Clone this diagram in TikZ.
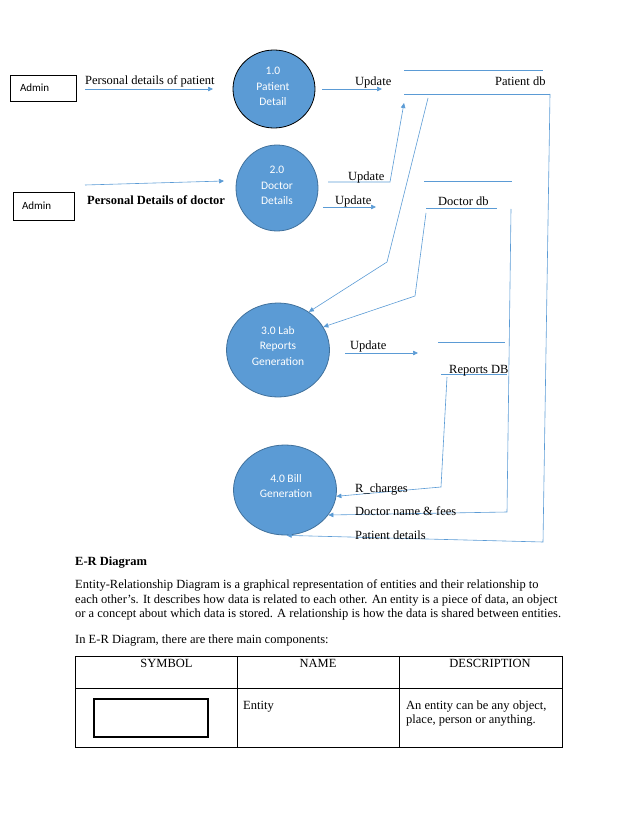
\documentclass[tikz,border=0pt]{standalone}
\usepackage{fontspec}
\setmainfont{Liberation Serif}
\newfontfamily\calibri{Carlito}
\usepackage{tikz}
\usetikzlibrary{arrows.meta,shapes.geometric}

\definecolor{procblue}{HTML}{5B9BD5}
\definecolor{procedge}{HTML}{41719C}

\tikzset{
  proc/.style={ellipse, fill=procblue, draw=procedge, line width=0.8pt, inner sep=0pt},
  proctxt/.style={align=center, inner sep=0pt, text=white,
    font=\calibri\fontsize{11.5}{15.5}\selectfont},
  extbox/.style={rectangle, draw=black, line width=0.8pt, align=left,
    font=\calibri\fontsize{11}{13}\selectfont},
  flow/.style={draw=procblue, line width=0.6pt},
  lbl/.style={anchor=base west, inner sep=0pt, font=\fontsize{12.5}{15}\selectfont},
  hdr/.style={anchor=base, inner sep=0pt, font=\fontsize{12.5}{15}\selectfont},
}

\begin{document}
\begin{tikzpicture}[x=1pt,y=-1pt,>={Triangle[length=5pt,width=4.5pt]}]
\useasboundingbox (0,0) rectangle (638,826);

% processes
\node (p1) at (274,89) [proc, draw=black, minimum width=82pt, minimum height=78pt,
  label={[proctxt, xshift=-1pt, yshift=2.5pt]center:1.0\\Patient\\Detail}] {};
\node (p2) at (277,188) [proc, minimum width=82pt, minimum height=86pt,
  label={[proctxt, yshift=2.5pt]center:2.0\\Doctor\\Details}] {};
\node (p3) at (278,350) [proc, minimum width=103pt, minimum height=94pt,
  label={[proctxt, yshift=4pt]center:3.0 Lab\\Reports\\Generation}] {};
\node (p4) at (285,490) [proc, minimum width=103pt, minimum height=90pt,
  label={[proctxt, xshift=1pt, yshift=4pt]center:4.0 Bill\\Generation}] {};

% external entities
\node (a1) at (43,88) [extbox, minimum height=26pt, text width=46pt, inner xsep=10pt] {Admin};
\node (a2) at (43.5,206) [extbox, minimum height=28pt, text width=43pt, inner xsep=9pt] {Admin};

% data stores
\draw[flow] (404,70) -- (543,70);
\draw[flow] (404,94) -- (550,94);
\node (sPat) at (495,86) [lbl] {Patient db};
\draw[flow] (424,181) -- (512,181);
\draw[flow] (426,208) -- (497,208);
\node (sDoc) at (438,206) [lbl] {Doctor db};
\draw[flow] (438,342) -- (505,342);
\draw[flow] (441,374) -- (507,374);
\node (sRep) at (449,373) [lbl] {Reports DB};

% admin to processes
\coordinate (f1a) at (85,89);
\coordinate (f1b) at (213,89);
\draw[flow,->] (f1a) -- (f1b);
\node (l1) at (85,85) [lbl] {Personal details of patient};
\coordinate (f2a) at (85,185);
\coordinate (f2b) at (224,181);
\draw[flow,->] (f2a) -- (f2b);
\node (l2) at (87,205) [lbl] {\bfseries Personal Details of doctor};

% updates into stores
\coordinate (u1a) at (322,89);
\coordinate (u1b) at (382,89);
\draw[flow,->] (u1a) -- (u1b);
\node (l3) at (355,86) [lbl] {Update};
\coordinate (u2a) at (328,182);
\coordinate (u2b) at (390,182);
\coordinate (u2c) at (404,103);
\draw[flow,->] (u2a) -- (u2b) -- (u2c);
\node (l4) at (348,181) [lbl] {Update};
\coordinate (u3a) at (323,207);
\coordinate (u3b) at (376,207);
\draw[flow,->] (u3a) -- (u3b);
\node (l5) at (335,205) [lbl] {Update};
\coordinate (u4a) at (345,353);
\coordinate (u4b) at (418,353);
\draw[flow,->] (u4a) -- (u4b);
\node (l6) at (350,349) [lbl] {Update};

% stores to lab reports
\coordinate (r1a) at (428,98);
\coordinate (r1b) at (387,262);
\draw[flow,->] (r1a) -- (r1b) -- (p3.51);
\coordinate (r2a) at (426,213);
\coordinate (r2b) at (415,296);
\draw[flow,->] (r2a) -- (r2b) -- (p3.27);

% stores to bill
\coordinate (b1a) at (447,377);
\coordinate (b1b) at (441,487);
\draw[flow,->] (b1a) -- (b1b) -- (p4.-7);
\node (l7) at (355,492) [lbl] {R\_charges};
\coordinate (b2a) at (511,209);
\coordinate (b2b) at (507,512);
\draw[flow,->] (b2a) -- (b2b) -- (p4.-30);
\node (l8) at (355,515) [lbl] {Doctor name \& fees};
\coordinate (b3a) at (550,94);
\coordinate (b3b) at (543,542);
\draw[flow,->] (b3a) -- (b3b) -- (p4.-88);
\node (l9) at (355,539) [lbl] {Patient details};

% E-R text
\node (t0) at (75,565) [lbl] {\bfseries E-R Diagram};
\node (t1) at (75,588) [lbl] {Entity-Relationship Diagram is a graphical representation of entities and their relationship to};
\node (t2) at (75,603) [lbl] {each other’s. It describes how data is related to each other. An entity is a piece of data, an object};
\node (t3) at (75,617.5) [lbl] {or a concept about which data is stored. A relationship is how the data is shared between entities.};
\node (t4) at (75,643) [lbl] {In E-R Diagram, there are there main components:};

% table
\draw[line width=0.7pt] (75,656) rectangle (562,747);
\draw[line width=0.7pt] (75,688) -- (562,688);
\draw[line width=0.7pt] (237,656) -- (237,747);
\draw[line width=0.7pt] (399,656) -- (399,747);
\node (h1) at (166.5,667) [hdr] {SYMBOL};
\node (h2) at (318,667) [hdr] {NAME};
\node (h3) at (490,667) [hdr] {DESCRIPTION};
\draw[line width=1.2pt] (94,699) rectangle (208,737);
\node (c2) at (243,709.5) [lbl] {Entity};
\node (c3a) at (406,709.5) [lbl] {An entity can be any object,};
\node (c3b) at (406,723.5) [lbl] {place, person or anything.};
\end{tikzpicture}
\end{document}
